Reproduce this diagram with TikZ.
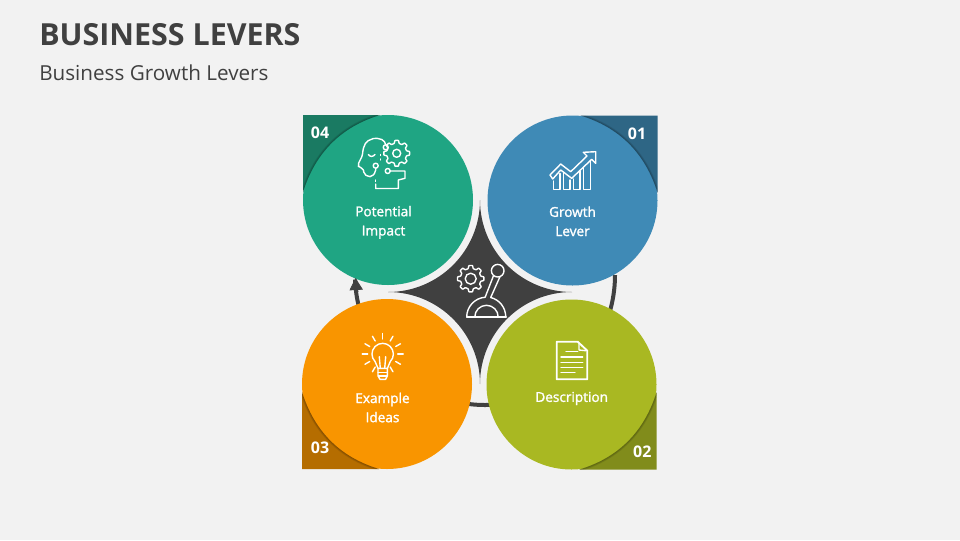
\documentclass[tikz,border=0pt]{standalone}
\usepackage{fontspec}
\setmainfont{Open Sans}
\newfontfamily\labelfont[FakeBold=1.6]{Open Sans}
\usetikzlibrary{arrows.meta}
\definecolor{pagegray}{HTML}{F2F2F2}
\definecolor{inkgray}{HTML}{404040}
\definecolor{leafgreen}{HTML}{1FA583}
\definecolor{leafgreendark}{HTML}{1A7A62}
\definecolor{leafblue}{HTML}{3F8AB6}
\definecolor{leafbluedark}{HTML}{2E6685}
\definecolor{leaforange}{HTML}{F99500}
\definecolor{leaforangedark}{HTML}{B56D00}
\definecolor{leafolive}{HTML}{A9B822}
\definecolor{leafolivedark}{HTML}{818C1B}
\tikzset{
  leaflabel/.style={text=white,font=\fontsize{10.2}{14.4}\labelfont,align=center,inner sep=0pt},
  leafnum/.style={text=white,font=\bfseries\fontsize{12}{14}\selectfont,inner sep=0pt},
  iconline/.style={draw=white,line width=1.05pt,line cap=round,line join=round},
  gearicon/.pic={
    \draw[iconline,rounded corners=0.35pt] (-14:0.78)
      \foreach \a in {0,45,...,315} {-- (\a-14:0.78) -- (\a-8:1) -- (\a+8:1) -- (\a+14:0.78)} -- cycle;
  }
}
\begin{document}
\begin{tikzpicture}[x=0.75pt,y=-0.75pt]
  \useasboundingbox[fill=pagegray] (0,0) rectangle (960,540);
  % Title
  \node[anchor=base west,inner sep=0pt,text=inkgray,font=\bfseries\fontsize{22.8}{26}\selectfont] (title) at (39,45) {BUSINESS LEVERS};
  \node[anchor=base west,inner sep=0pt,text=inkgray,font=\fontsize{15.5}{18}\selectfont] (subtitle) at (39,80) {Business Growth Levers};
  % Ring
  \draw[inkgray,line width=3pt] (615,275) arc (0:178:130);
  % Centre star
  \fill[inkgray] (480,200) arc (180:90:92) arc (270:180:92) arc (0:-90:92) arc (90:0:92) -- cycle;
  % Leaves
  \foreach \cx/\cy/\dx/\dy/\main/\dark in {
      388/200/-1/-1/leafgreen/leafgreendark,
      572.5/200.5/1/-1/leafblue/leafbluedark,
      387/384/-1/1/leaforange/leaforangedark,
      571.5/384.5/1/1/leafolive/leafolivedark} {
    \fill[\main] (\cx,\cy) circle[radius=85];
    \fill[\dark] (\cx+\dx*85,\cy+\dy*85) -- (\cx+\dx*85,\cy+\dy*8)
      .. controls (\cx+\dx*72.7,\cy+\dy*47.3) and (\cx+\dx*47,\cy+\dy*73.2) .. (\cx+\dx*8,\cy+\dy*85) -- cycle;
    % Soft edge of the corner
    \begin{scope}
      \clip (\cx+\dx*85,\cy+\dy*85) -- (\cx+\dx*85,\cy+\dy*8)
        .. controls (\cx+\dx*72.7,\cy+\dy*47.3) and (\cx+\dx*47,\cy+\dy*73.2) .. (\cx+\dx*8,\cy+\dy*85) -- cycle;
      \foreach \w in {1,2,3} {
        \draw[black,opacity=0.09,line width=\w pt] (\cx+\dx*85,\cy+\dy*8)
          .. controls (\cx+\dx*72.7,\cy+\dy*47.3) and (\cx+\dx*47,\cy+\dy*73.2) .. (\cx+\dx*8,\cy+\dy*85);
      }
    \end{scope}
  }
  % Arrow on the ring
  \coordinate (arrowfoot) at (356.3,292);
  \coordinate (arrowtip) at (355.5,278);
  \draw[inkgray,line width=3pt,-{Triangle[length=9pt,width=10pt,fill=inkgray,line width=0.5pt]}] (arrowfoot) -- (arrowtip);
  % Numbers
  \node[leafnum] (num04) at (320,132.7) {04};
  \node[leafnum] (num01) at (637,133.7) {01};
  \node[leafnum] (num03) at (320,447.3) {03};
  \node[leafnum] (num02) at (642.3,451.7) {02};
  % Labels
  \node[leaflabel] (impact) at (383.5,222.3) {Potential\\Impact};
  \node[leaflabel] (growth) at (572.5,221.3) {Growth\\Lever};
  \node[leaflabel] (ideas) at (382.5,407.5) {Example\\Ideas};
  \node[leaflabel] (description) at (571.7,398.5) {Description};
  % Head icon
  \draw[iconline,rounded corners=1.5pt] (385.7,144.8) -- (383.8,140) -- (375,137.8) -- (366.2,141.5) -- (362.7,150) -- (362.7,155)
    -- (357.7,165) -- (359.3,167.7) -- (363.3,168.3) -- (364,174) -- (368.3,176.7) -- (371.7,176.7) -- (375.7,172) -- (375.7,168.2);
  \draw[iconline] (385.7,147.3) circle[radius=2.5];
  \draw[iconline] (375.7,165.7) circle[radius=2.5];
  \draw[iconline] (387.7,171) circle[radius=2.5];
  \draw[iconline] (375.7,180) -- (375.7,181.5);
  \draw[iconline] (375.7,184) -- (375.7,188.5) -- (398.3,188.5) -- (398.3,180) -- (405,178.3) -- (405,171) -- (390.2,171);
  \draw[iconline] (380.7,154.5) -- (380.7,155.5);
  \draw[iconline] (380.7,159) -- (380.7,160);
  \draw[iconline] (368.3,154.5) .. controls (370,157) and (373,157) .. (375,154.5);
  \pic at (396.7,153.3) [scale=13] {gearicon};
  \draw[iconline] (396.7,153.3) circle[radius=4];
  % Chart icon
  \draw[iconline] (550,175) -- (560.7,164) -- (570.7,171.7) -- (587,156) -- (583.3,152.3) -- (595.7,151.7) -- (595.7,163.3)
    -- (591.7,159.3) -- (571.7,178.3) -- (560.7,170) -- (552.7,179) -- cycle;
  \draw[iconline] (553.3,181) -- (553.3,189.3) -- (560,189.3) -- (560,173.5);
  \draw[iconline] (563.3,173) -- (563.3,189.3) -- (570,189.3) -- (570,180);
  \draw[iconline] (573.3,179) -- (573.3,189.3) -- (580,189.3) -- (580,171);
  \draw[iconline] (583.3,168) -- (583.3,189.3) -- (590.3,189.3) -- (590.3,161);
  % Bulb icon
  \draw[iconline] (378,368.3) -- (375.1,361.6) arc (135:405:10.7) -- (387.4,368.3) -- cycle;
  \draw[iconline] (379.3,356.7) -- (380.3,368.3);
  \draw[iconline] (385.7,356.7) -- (384.7,368.3);
  \draw[iconline] (378,372.3) -- (387.4,372.3);
  \draw[iconline] (378.4,375.8) -- (387,375.8);
  \draw[iconline] (378,368.3) -- (378,375.8) -- (380,379.3) -- (385.6,379.3) -- (387.4,375.8) -- (387.4,368.3);
  \foreach \a in {-90,-60,-30,0,30,60,120,150,180,210,240} {
    \draw[iconline] (382.7,354) ++(\a:15) -- ++(\a:5.5);
  }
  % Document icon
  \draw[iconline,line width=1.4pt] (556.7,341.7) -- (577.7,341.7) -- (587.3,350.7) -- (587.3,379.3) -- (556.7,379.3) -- cycle;
  \draw[iconline] (579,343.3) -- (579,350) -- (586,350.7);
  \draw[iconline] (566,351.7) -- (577.7,351.7);
  \foreach \y in {357,362.3,367.3} {
    \draw[iconline] (561,\y) -- (582.7,\y);
  }
  \draw[iconline] (561,372.3) -- (575,372.3);
  % Lever icon
  \pic at (470.7,278.7) [scale=13.3] {gearicon};
  \draw[iconline] (470.7,278.7) circle[radius=5.5];
  \draw[iconline] (497.7,270.7) circle[radius=6.3];
  \draw[iconline] (466.7,317) arc (180:266:19.8) -- (493.3,276.2);
  \draw[iconline] (500,276.6) -- (490.7,297.5) arc (284:360:19.8);
  \draw[iconline] (466.7,317) -- (506.3,317);
  \draw[iconline] (474.8,317) arc (180:360:11.7);
\end{tikzpicture}
\end{document}
